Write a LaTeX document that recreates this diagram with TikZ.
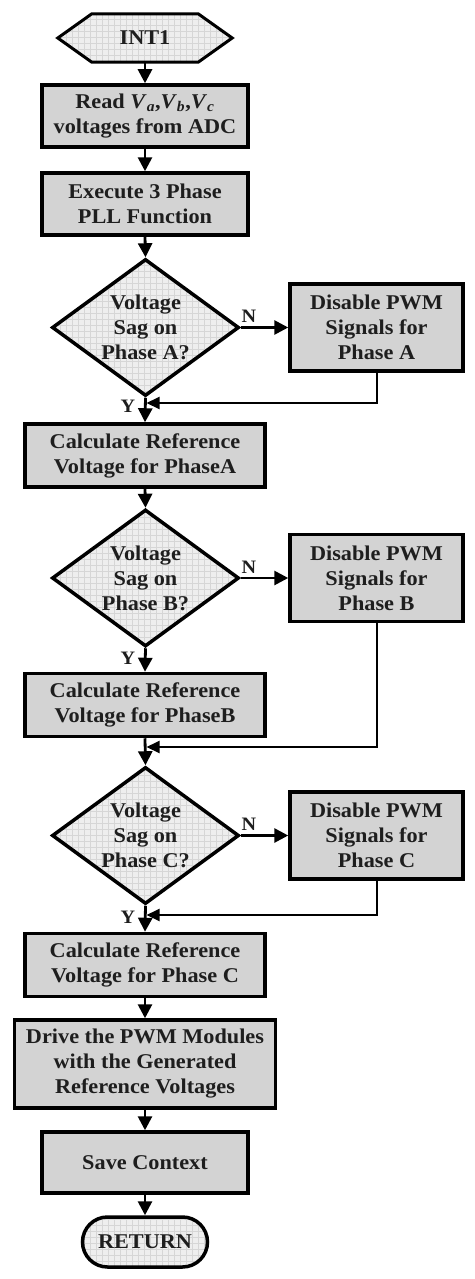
\documentclass[tikz,border=0pt]{standalone}
\usepackage{fontspec}
\newfontfamily\flowfont{Liberation Serif}[FakeStretch=1.06]
\usetikzlibrary{shapes.geometric,shapes.misc,arrows.meta,patterns.meta,backgrounds,calc}
\definecolor{boxgray}{HTML}{D3D3D3}
\definecolor{gridbg}{HTML}{EEEEEE}
\definecolor{gridline}{HTML}{D6D6D6}
\definecolor{inkc}{HTML}{1E1E1E}
\begin{document}
\begin{tikzpicture}[x=1pt,y=-1pt,
  every node/.style={font=\flowfont\bfseries\fontsize{21pt}{25pt}\selectfont, text=inkc},
  gridfill/.style={preaction={fill=gridbg}, pattern={Hatch[angle=0,distance=6pt,line width=0.5pt]}, pattern color=gridline},
  procbox/.style={rectangle, draw=black, line width=3.5pt, fill=boxgray, align=center, inner sep=0pt},
  decbox/.style={diamond, draw=black, line width=3.5pt, gridfill, align=center, inner sep=0pt, aspect=1.365, minimum width=187pt, minimum height=137pt},
  termhex/.style={rectangle, inner sep=0pt, minimum width=174pt, minimum height=48pt},
  termret/.style={rounded rectangle, draw=black, line width=3.5pt, gridfill, inner sep=0pt, minimum width=125pt, minimum height=50pt},
  flow/.style={line width=2.8pt, -{Triangle[length=14pt,width=14pt]}},
  backflow/.style={line width=2pt, -{Triangle[length=13pt,width=12pt]}},
  yn/.style={font=\flowfont\bfseries\fontsize{19pt}{20pt}\selectfont, inner sep=0pt},
]
\useasboundingbox (0,0) rectangle (474,1279);

% nodes
\node[termhex] (int1) at (145,38) {INT1};
\begin{pgfonlayer}{background}
\draw[line width=3pt, gridfill, line join=miter]
  (int1.west) -- ([xshift=34pt]int1.north west) -- ([xshift=-34pt]int1.north east)
  -- (int1.east) -- ([xshift=-34pt]int1.south east) -- ([xshift=34pt]int1.south west) -- cycle;
\end{pgfonlayer}

\node[procbox, minimum width=206pt, minimum height=62pt] (read) at (145,116)
  {Read \textit{V}\textsubscript{\textit{a}},\textit{V}\textsubscript{\textit{b}},\textit{V}\textsubscript{\textit{c}}\\voltages from ADC};
\node[procbox, minimum width=206pt, minimum height=62pt] (exec) at (145,204) {Execute 3 Phase\\PLL Function};

\node[decbox] (da) at (145.5,327.5) {Voltage\\Sag on\\Phase A?};
\node[procbox, minimum width=173pt, minimum height=87pt] (disa) at (376.5,327.5) {Disable PWM\\Signals for\\Phase A};
\node[procbox, minimum width=240pt, minimum height=63pt] (calca) at (145,455.5) {Calculate Reference\\Voltage for PhaseA};
\coordinate (ma) at (146.5,403);

\node[decbox] (db) at (145.5,578) {Voltage\\Sag on\\Phase B?};
\node[procbox, minimum width=173pt, minimum height=87pt] (disb) at (376.5,578) {Disable PWM\\Signals for\\Phase B};
\node[procbox, minimum width=240pt, minimum height=63pt] (calcb) at (145,705) {Calculate Reference\\Voltage for PhaseB};
\coordinate (mb) at (146.5,747);

\node[decbox] (dc) at (145.5,835.5) {Voltage\\Sag on\\Phase C?};
\node[procbox, minimum width=173pt, minimum height=87pt] (disc) at (376.5,835.5) {Disable PWM\\Signals for\\Phase C};
\node[procbox, minimum width=240pt, minimum height=63pt] (calcc) at (145,965) {Calculate Reference\\Voltage for Phase C};
\coordinate (mc) at (146.5,915);

\node[procbox, minimum width=261pt, minimum height=88pt] (drive) at (145,1064) {Drive the PWM Modules\\with the Generated\\Reference Voltages};
\node[procbox, minimum width=206pt, minimum height=61pt] (save) at (145,1162.5) {Save Context};
\node[termret] (ret) at (145,1242) {RETURN};

% labels
\node[yn] (na) at (249,316) {N};
\node[yn] (nb) at (249,567) {N};
\node[yn] (nc) at (249,824) {N};
\node[yn] (ya) at (128,406) {Y};
\node[yn] (yb) at (128,658) {Y};
\node[yn] (yc) at (128,917) {Y};

% connectors
\draw[flow] (int1.south) -- (read.north);
\draw[flow] (read.south) -- (exec.north);
\draw[flow] (exec.south) -- (da.north);
\draw[flow] (da.east) -- (disa.west);
\draw[flow] (da.south) -- (calca.north);
\draw[backflow] (disa.south) |- (ma);
\draw[flow] (calca.south) -- (db.north);
\draw[flow] (db.east) -- (disb.west);
\draw[flow] (db.south) -- (calcb.north);
\draw[flow] (calcb.south) -- (dc.north);
\draw[backflow] (disb.south) |- (mb);
\draw[flow] (dc.east) -- (disc.west);
\draw[flow] (dc.south) -- (calcc.north);
\draw[backflow] (disc.south) |- (mc);
\draw[flow] (calcc.south) -- (drive.north);
\draw[flow] (drive.south) -- (save.north);
\draw[flow] (save.south) -- (ret.north);
\end{tikzpicture}
\end{document}
